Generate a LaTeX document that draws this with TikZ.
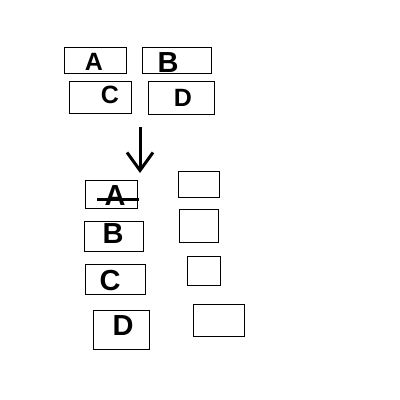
\documentclass[tikz,border=0pt]{standalone}
\usepackage{fontspec}
\setmainfont{Liberation Sans}
\usepackage{tikz}
\usetikzlibrary{arrows.meta}

\begin{document}
\begin{tikzpicture}[x=1pt,y=-1pt]
	\tikzstyle{every node}+=[inner sep=0pt, outer sep=0pt]
	\tikzstyle{card}=[draw=black, line width=0.9pt]
	\tikzstyle{letter}=[font=\bfseries\fontsize{29}{29}\selectfont]
	\tikzstyle{smallletter}=[font=\bfseries\fontsize{25}{25}\selectfont]
	\fill [white] (0,0) rectangle (400,400);
	% top: four labelled boxes
	\node [card, minimum width=62pt, minimum height=26pt] (topA) at (95,60) {};
	\node [card, minimum width=69pt, minimum height=26pt] (topB) at (176.5,60) {};
	\node [card, minimum width=62pt, minimum height=32pt] (topC) at (100,97) {};
	\node [card, minimum width=66pt, minimum height=33pt] (topD) at (181,97.5) {};
	\node [smallletter] (txtA) at (94,61.5) {A};
	\node [letter] (txtB) at (168,63) {B};
	\node [smallletter] (txtC) at (110,95) {C};
	\node [smallletter] (txtD) at (183,97.5) {D};
	% arrow down
	\coordinate (arrTop) at (140,127);
	\coordinate (arrEnd) at (140,173);
	\draw [line width=3pt, -{Straight Barb[length=18pt,width=26pt]}] (arrTop) -- (arrEnd);
	% bottom: list on the left
	\node [card, minimum width=52pt, minimum height=28pt] (lowA) at (111,194) {};
	\node [card, minimum width=59pt, minimum height=30pt] (lowB) at (113.5,236) {};
	\node [card, minimum width=60pt, minimum height=30pt] (lowC) at (115,279) {};
	\node [card, minimum width=56pt, minimum height=39pt] (lowD) at (121,329.5) {};
	\node [letter] (lowtxtA) at (115,196) {A};
	\node [letter] (lowtxtB) at (113,234) {B};
	\node [letter] (lowtxtC) at (110,281) {C};
	\node [letter] (lowtxtD) at (123,326) {D};
	\coordinate (strikeL) at (97,199);
	\coordinate (strikeR) at (139,199);
	\draw [line width=3pt] (strikeL) -- (strikeR);
	% bottom: empty boxes on the right
	\node [card, minimum width=41pt, minimum height=26pt] (slotA) at (198.5,184) {};
	\node [card, minimum width=39pt, minimum height=33pt] (slotB) at (198.5,225.5) {};
	\node [card, minimum width=33pt, minimum height=29pt] (slotC) at (203.5,270.5) {};
	\node [card, minimum width=51pt, minimum height=32pt] (slotD) at (218.5,320) {};
\end{tikzpicture}
\end{document}
